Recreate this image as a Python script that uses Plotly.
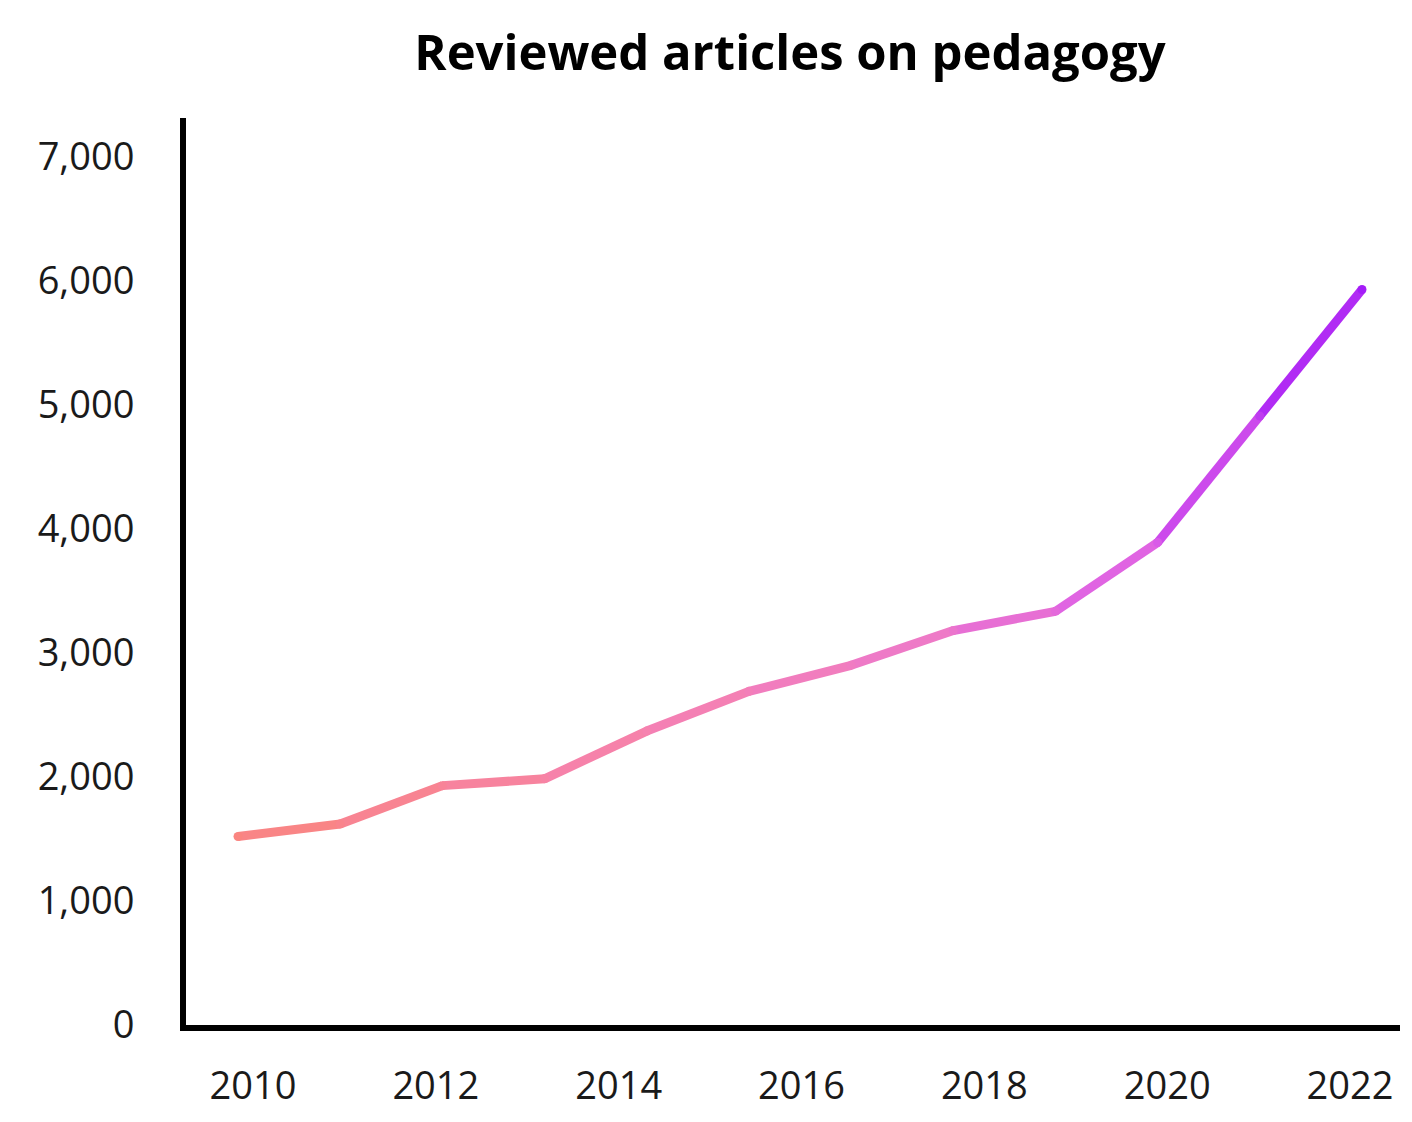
import plotly.graph_objects as go
from plotly.colors import sample_colorscale

# ---- data ----
years = [2010, 2011, 2012, 2013, 2014, 2015, 2016, 2017, 2018, 2019, 2020, 2021]
articles = [1520, 1620, 1930, 1985, 2370, 2690, 2900, 3180, 3335, 3890, 4910, 5930]
tick_years = [2010, 2012, 2014, 2016, 2018, 2020, 2022]
tick_labels = ["2010", "2012", "2014", "2016", "2018", "2020", "2022"]
y_ticks = [0, 1000, 2000, 3000, 4000, 5000, 6000, 7000]

# ---- style ----
gradient = [[0.0, "#FA8580"], [0.35, "#F682AE"], [0.6, "#EE7AC8"],
            [0.8, "#DE60E6"], [1.0, "#A41CF8"]]
FONT = "Open Sans"
LW = 9

fig = go.Figure()
x0, x1 = years[0], years[-1]

def frac(x):
    return (x - x0) / (x1 - x0)

for i in range(len(years) - 1):
    f = (frac(years[i]) + frac(years[i + 1])) / 2
    col = sample_colorscale(gradient, [f])[0]
    fig.add_trace(go.Scatter(
        x=years[i:i + 2], y=articles[i:i + 2], mode="lines",
        line=dict(color=col, width=LW), hoverinfo="skip", showlegend=False))

# round joints / caps
fig.add_trace(go.Scatter(
    x=years, y=articles, mode="markers",
    marker=dict(size=LW, color=[frac(v) for v in years], colorscale=gradient,
                cmin=0, cmax=1, line=dict(width=0)),
    showlegend=False, hovertemplate="%{x}: %{y:,}<extra></extra>"))

# invisible trace to carry the tick-label axis
fig.add_trace(go.Scatter(x=[tick_years[0], tick_years[-1]], y=[0, 0], xaxis="x2",
                         mode="markers", marker=dict(opacity=0), hoverinfo="skip",
                         showlegend=False))

fig.update_layout(
    width=1412, height=1122,
    margin=dict(l=186, r=12, t=118, b=92),
    paper_bgcolor="white", plot_bgcolor="white",
    font=dict(family=FONT, color="#1a1a1a"),
    title=dict(text="<b>Reviewed articles on pedagogy</b>",
               font=dict(family="Open Sans", size=49, color="black"),
               x=790 / 1412, xanchor="center", xref="container",
               y=1 - 53 / 1122, yanchor="middle", yref="container"),
    xaxis=dict(range=[2009.491, 2021.372], showticklabels=False, ticks="",
               showgrid=False, zeroline=False, showline=True,
               linecolor="black", linewidth=6),
    xaxis2=dict(range=[2009.267, 2022.547], overlaying="x", anchor="y",
                side="bottom", tickvals=tick_years, ticktext=tick_labels,
                showgrid=False, zeroline=False, showline=False, ticks="",
                ticklabelstandoff=35,
                tickfont=dict(family=FONT, size=38, color="#1a1a1a")),
    yaxis=dict(range=[0, 7313], tickvals=y_ticks, tickformat=",d",
               showgrid=False, zeroline=False, showline=True,
               linecolor="black", linewidth=6, ticks="",
               ticklabelstandoff=38,
               tickfont=dict(family=FONT, size=38, color="#1a1a1a")),
)

fig.write_html("out.html")
